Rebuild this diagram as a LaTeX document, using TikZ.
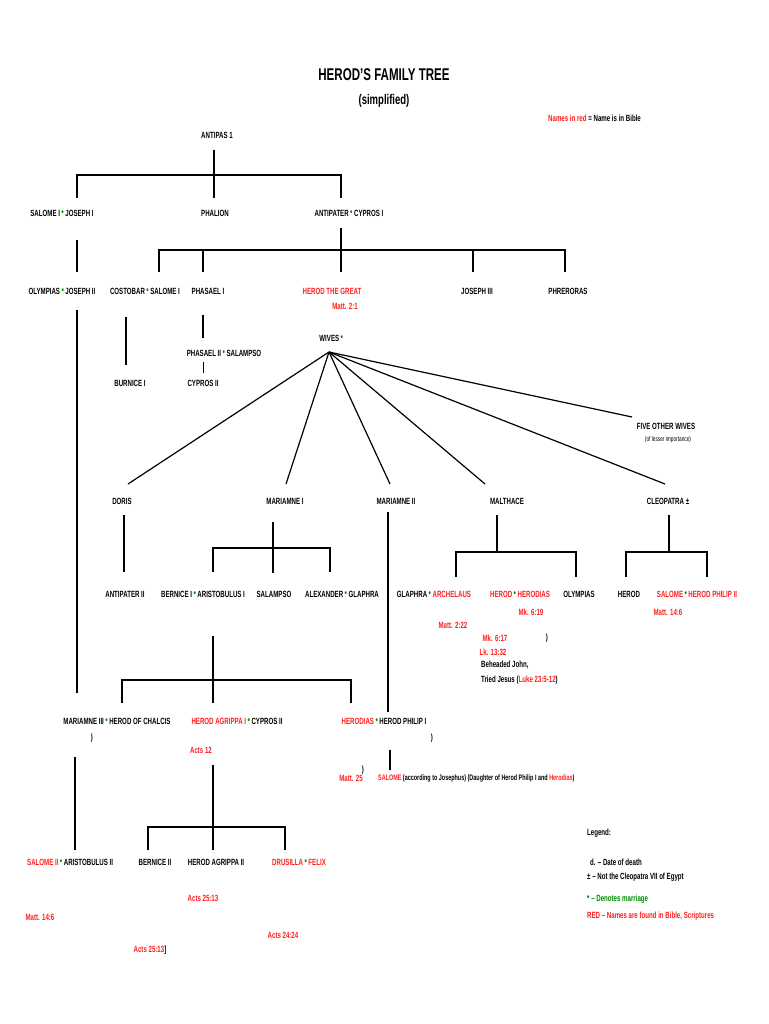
\documentclass[tikz,border=0pt]{standalone}
\usepackage{fontspec}
\setmainfont{Liberation Sans}[FakeStretch=0.68]
\usetikzlibrary{positioning}
\definecolor{bred}{RGB}{255,30,30}
\definecolor{mgreen}{RGB}{0,140,0}
\newcommand{\mdot}{{\color{mgreen}\,\raisebox{0.2ex}{\fontsize{10}{10}\selectfont\textbullet}\,}}
\newcommand{\rd}[1]{{\color{bred}#1}}
\begin{document}
\begin{tikzpicture}[x=1pt,y=-1pt,
  t/.style={inner sep=0pt,font=\fontsize{9}{10}\selectfont\bfseries},
  r/.style={t,text=bred},
  ln/.style={line width=1.2pt},
  thin/.style={line width=0.7pt}]
\useasboundingbox[fill=white] (0,0) rectangle (768,1024);
% title
\node[t,font=\fontsize{17}{18}\selectfont\bfseries] (title) at (384,75) {HEROD'S FAMILY TREE};
\node[t,font=\fontsize{14}{15}\selectfont\bfseries] (sub) at (384,101) {(simplified)};
\node[t,anchor=west] (note) at (548,118) {\rd{Names in red} = Name is in Bible};
% row 0
\node[t] (antipas) at (217,135) {ANTIPAS 1};
\coordinate (b1) at (214,175);
\draw[ln] (214,150) -- (b1);
\draw[ln] (77,198) -- (77,175) -- (341,175) -- (341,198);
\draw[ln] (b1) -- (214,198);
% row 1
\node[t] (salome1) at (62,213) {SALOME I\mdot JOSEPH I};
\node[t] (phalion) at (215,213) {PHALION};
\node[t] (antipater) at (349,213) {ANTIPATER\mdot CYPROS I};
\draw[ln] (77,240) -- (77,272);
\draw[ln] (341,228) -- (341,272);
\draw[ln] (159,272) -- (159,250) -- (565,250) -- (565,272);
\draw[ln] (203,250) -- (203,272);
\draw[ln] (473,250) -- (473,272);
% row 2
\node[t] (olympias) at (62,291) {OLYMPIAS\mdot JOSEPH II};
\node[t] (costobar) at (145,291) {COSTOBAR\mdot SALOME I};
\node[t] (phasael) at (208,291) {PHASAEL I};
\node[r] (herodg) at (332,291) {HEROD THE GREAT};
\node[r] (m21) at (345,306) {Matt. 2:1};
\node[t] (joseph3) at (477,291) {JOSEPH III};
\node[t] (phreroras) at (568,291) {PHRERORAS};
\draw[ln] (126,317) -- (126,365);
\node[t] (burnice) at (130,383) {BURNICE I};
\draw[ln] (203,315) -- (203,338);
\node[t] (phasael2) at (224,353) {PHASAEL II\mdot SALAMPSO};
\draw[thin] (203,362) -- (203,373);
\node[t] (cypros2a) at (203,383) {CYPROS II};
% wives
\node[t] (wives) at (332,338) {WIVES\mdot};
\coordinate (fan) at (329,352);
\node[t] (five) at (666,426) {FIVE OTHER WIVES};
\node[t,font=\fontsize{7}{8}\selectfont] (lesser) at (668,440) {(of lesser importance)};
\node[t] (doris) at (122,501) {DORIS};
\node[t] (mar1) at (285,501) {MARIAMNE I};
\node[t] (mar2) at (396,501) {MARIAMNE II};
\node[t] (malthace) at (507,501) {MALTHACE};
\node[t] (cleo) at (668,501) {CLEOPATRA \textpm};
\draw[ln] (fan) -- (128,484);
\draw[ln] (fan) -- (286,484);
\draw[ln] (fan) -- (390,484);
\draw[ln] (fan) -- (485,484);
\draw[ln] (fan) -- (665,484);
\draw[ln] (fan) -- (632,417);
% doris
\draw[ln] (124,515) -- (124,572);
\node[t] (antipater2) at (125,594) {ANTIPATER II};
% mariamne I
\draw[ln] (273,522) -- (273,573);
\draw[ln] (213,572) -- (213,548) -- (330,548) -- (330,572);
\node[t] (bernice1) at (203,594) {BERNICE I\mdot ARISTOBULUS I};
\node[t] (salampso) at (274,594) {SALAMPSO};
\node[t] (alex) at (342,594) {ALEXANDER\mdot GLAPHRA};
% malthace
\draw[ln] (497,515) -- (497,552);
\draw[ln] (456,577) -- (456,552) -- (576,552) -- (576,577);
\node[t] (glaphra) at (434,594) {GLAPHRA\mdot \rd{ARCHELAUS}};
\node[r] (herodant) at (520,594) {HEROD\mdot HERODIAS};
\node[t] (olymp2) at (579,594) {OLYMPIAS};
\node[r] (mk619) at (531,612) {Mk. 6:19};
\node[r] (m222) at (453,625) {Matt. 2:22};
\node[r] (mk617) at (495,638) {Mk. 6:17};
\node[t] (par1) at (547,638) {)};
\node[r] (lk) at (493,652) {Lk. 13:32};
\node[t,anchor=west] (beh) at (481,665) {Beheaded John,};
\node[t,anchor=west] (tried) at (481,680) {Tried Jesus (\rd{Luke 23:5-12})};
% cleopatra
\draw[ln] (669,515) -- (669,552);
\draw[ln] (626,577) -- (626,552) -- (707,552) -- (707,577);
\node[t] (herodc) at (629,594) {HEROD};
\node[r] (salomec) at (697,594) {SALOME\mdot HEROD PHILIP II};
\node[r] (m146a) at (668,612) {Matt. 14:6};
% lower tree
\draw[ln] (77,310) -- (77,693);
\draw[ln] (388,512) -- (388,712);
\draw[ln] (213,636) -- (213,703);
\draw[ln] (122,703) -- (122,680) -- (351,680) -- (351,703);
\node[t] (mar3) at (117,721) {MARIAMNE III\mdot HEROD OF CHALCIS};
\node[t] (agr1) at (237,721) {\rd{HEROD AGRIPPA I}\mdot CYPROS II};
\node[t] (herodias) at (384,721) {\rd{HERODIAS}\mdot HEROD PHILIP I};
\node[t] (p2) at (92,738) {)};
\node[t] (p3) at (432,738) {)};
\node[r] (acts12) at (201,750) {Acts 12};
\node[t] (p4) at (363,770) {)};
\node[r] (m25) at (351,778) {Matt. 25};
\node[t,anchor=west,font=\fontsize{8}{9}\selectfont\bfseries] (salj) at (378,778) {\rd{SALOME} (according to Josephus) (Daughter of Herod Philip I and \rd{Herodias})};
\draw[ln] (390,750) -- (390,770);
\draw[ln] (75,757) -- (75,850);
\draw[ln] (213,765) -- (213,850);
\draw[line width=1.8pt] (148,850) -- (148,827) -- (285,827) -- (285,850);
\node[t,anchor=west] (sal2) at (27,862) {\rd{SALOME II}\mdot ARISTOBULUS II};
\node[t] (bern2) at (155,862) {BERNICE II};
\node[t] (agr2) at (216,862) {HEROD AGRIPPA II};
\node[r] (drus) at (299,862) {DRUSILLA\mdot FELIX};
\node[r] (a2513) at (203,898) {Acts 25:13};
\node[r] (m146b) at (40,917) {Matt. 14:6};
\node[r] (a2424) at (283,935) {Acts 24:24};
\node[t] (a2513b) at (150,950) {\rd{Acts 25:13}]};
% legend
\node[t,anchor=west] (leg) at (587,833) {Legend:};
\node[t,anchor=west] (l1) at (590,862) {d. -- Date of death};
\node[t,anchor=west] (l2) at (587,877) {\textpm\ -- Not the Cleopatra VII of Egypt};
\node[t,anchor=west,text=mgreen] (l3) at (587,899) {\raisebox{0.2ex}{\fontsize{10}{10}\selectfont\textbullet} -- Denotes marriage};
\node[r,anchor=west] (l4) at (587,916) {RED -- Names are found in Bible, Scriptures};
\end{tikzpicture}
\end{document}
